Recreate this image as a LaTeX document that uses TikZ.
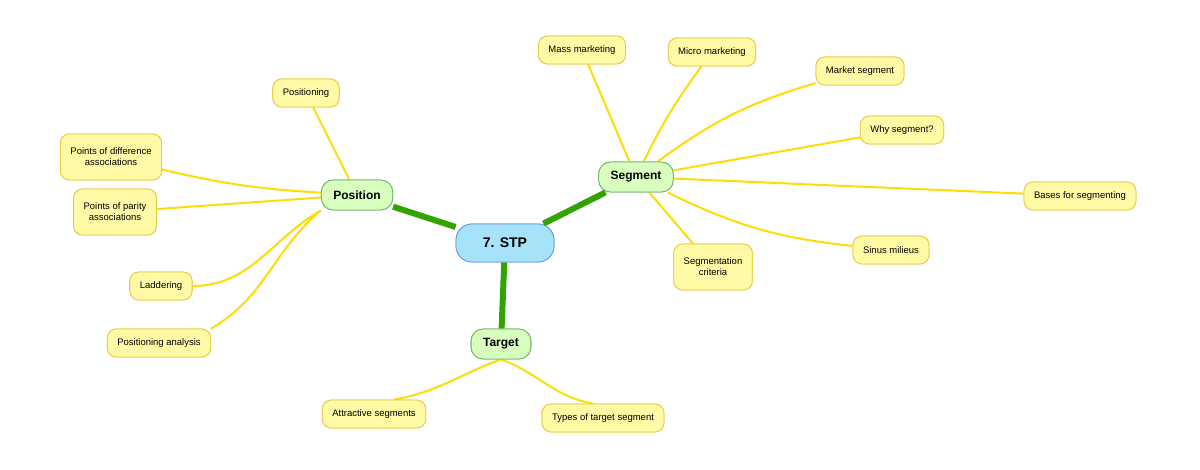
\documentclass[tikz,border=0pt]{standalone}
\usepackage{fontspec}
\setmainfont{Liberation Sans}
\begin{document}
\begin{tikzpicture}[x=1pt,y=-1pt,
 leaf/.style={draw=yellow!60!orange!90!black!80,fill=yellow!35,line width=0.8pt,rounded corners=9pt,font=\fontsize{9.5}{11}\selectfont,align=center,minimum height=28pt,inner xsep=10pt},
 main/.style={draw=green!50!black!60,fill=green!60!yellow!25,line width=0.8pt,rounded corners=12pt,font=\bfseries\fontsize{12}{14}\selectfont,minimum height=30pt,inner xsep=12pt},
 ctr/.style={draw=cyan!50!blue!60,fill=cyan!35,line width=0.8pt,rounded corners=16pt,font=\bfseries\fontsize{14}{16}\selectfont,minimum height=38pt,minimum width=98pt},
 ye/.style={draw=yellow!80!orange,line width=2pt},
 ge/.style={draw=green!55!black!80!yellow,line width=6pt}]
\useasboundingbox (0,0) rectangle (1200,470);
\node[ctr] (c) at (505,243) {7. STP};
\node[main] (pos) at (357,195) {Position};
\node[main] (seg) at (636,177) {Segment};
\node[main] (tar) at (501,344) {Target};
\node[leaf] (mm) at (582,50) {Mass marketing};
\node[leaf] (mi) at (712,52) {Micro marketing};
\node[leaf] (ms) at (860,71) {Market segment};
\node[leaf] (ws) at (902,130) {Why segment?};
\node[leaf] (bs) at (1080,196) {Bases for segmenting};
\node[leaf] (sm) at (891,250) {Sinus milieus};
\node[leaf,minimum height=46pt] (sc) at (713,267) {Segmentation\\criteria};
\node[leaf] (p) at (306,93) {Positioning};
\node[leaf,minimum height=46pt] (pd) at (111,157) {Points of difference\\associations};
\node[leaf,minimum height=46pt] (pp) at (115,212) {Points of parity\\associations};
\node[leaf] (la) at (161,286) {Laddering};
\node[leaf] (pa) at (159,343) {Positioning analysis};
\node[leaf] (as) at (374,414) {Attractive segments};
\node[leaf] (ts) at (603,418) {Types of target segment};
\begin{scope}[on background layer/.style={}]
\end{scope}
\path[ge] (c) -- (pos) (c) -- (seg) (c) -- (tar);
\path[ye] (seg) -- (mm) (seg) to[bend left=5] (mi) (seg) to[bend left=10] (ms) (seg) -- (ws)
 (seg) -- (bs) (seg) to[bend right=10] (sm) (seg) -- (sc)
 (pos) -- (p) (pos) to[bend left=5] (pd) (pos) -- (pp)
 (pos.south west) to[out=210,in=0] (la.east) (pos.south west) to[out=220,in=30] (pa.north east)
 (tar.south) to[out=200,in=10] ([xshift=20pt]as.north) (tar.south) to[out=-20,in=170] ([xshift=-10pt]ts.north);
\node[ctr] at (c) {7. STP};
\node[main] at (pos) {Position};
\node[main] at (seg) {Segment};
\node[main] at (tar) {Target};
\node[leaf] at (mm) {Mass marketing};
\node[leaf] at (mi) {Micro marketing};
\node[leaf] at (ms) {Market segment};
\node[leaf] at (ws) {Why segment?};
\node[leaf] at (bs) {Bases for segmenting};
\node[leaf] at (sm) {Sinus milieus};
\node[leaf,minimum height=46pt] at (sc) {Segmentation\\criteria};
\node[leaf] at (p) {Positioning};
\node[leaf,minimum height=46pt] at (pd) {Points of difference\\associations};
\node[leaf,minimum height=46pt] at (pp) {Points of parity\\associations};
\node[leaf] at (la) {Laddering};
\node[leaf] at (pa) {Positioning analysis};
\node[leaf] at (as) {Attractive segments};
\node[leaf] at (ts) {Types of target segment};
\end{tikzpicture}
\end{document}
